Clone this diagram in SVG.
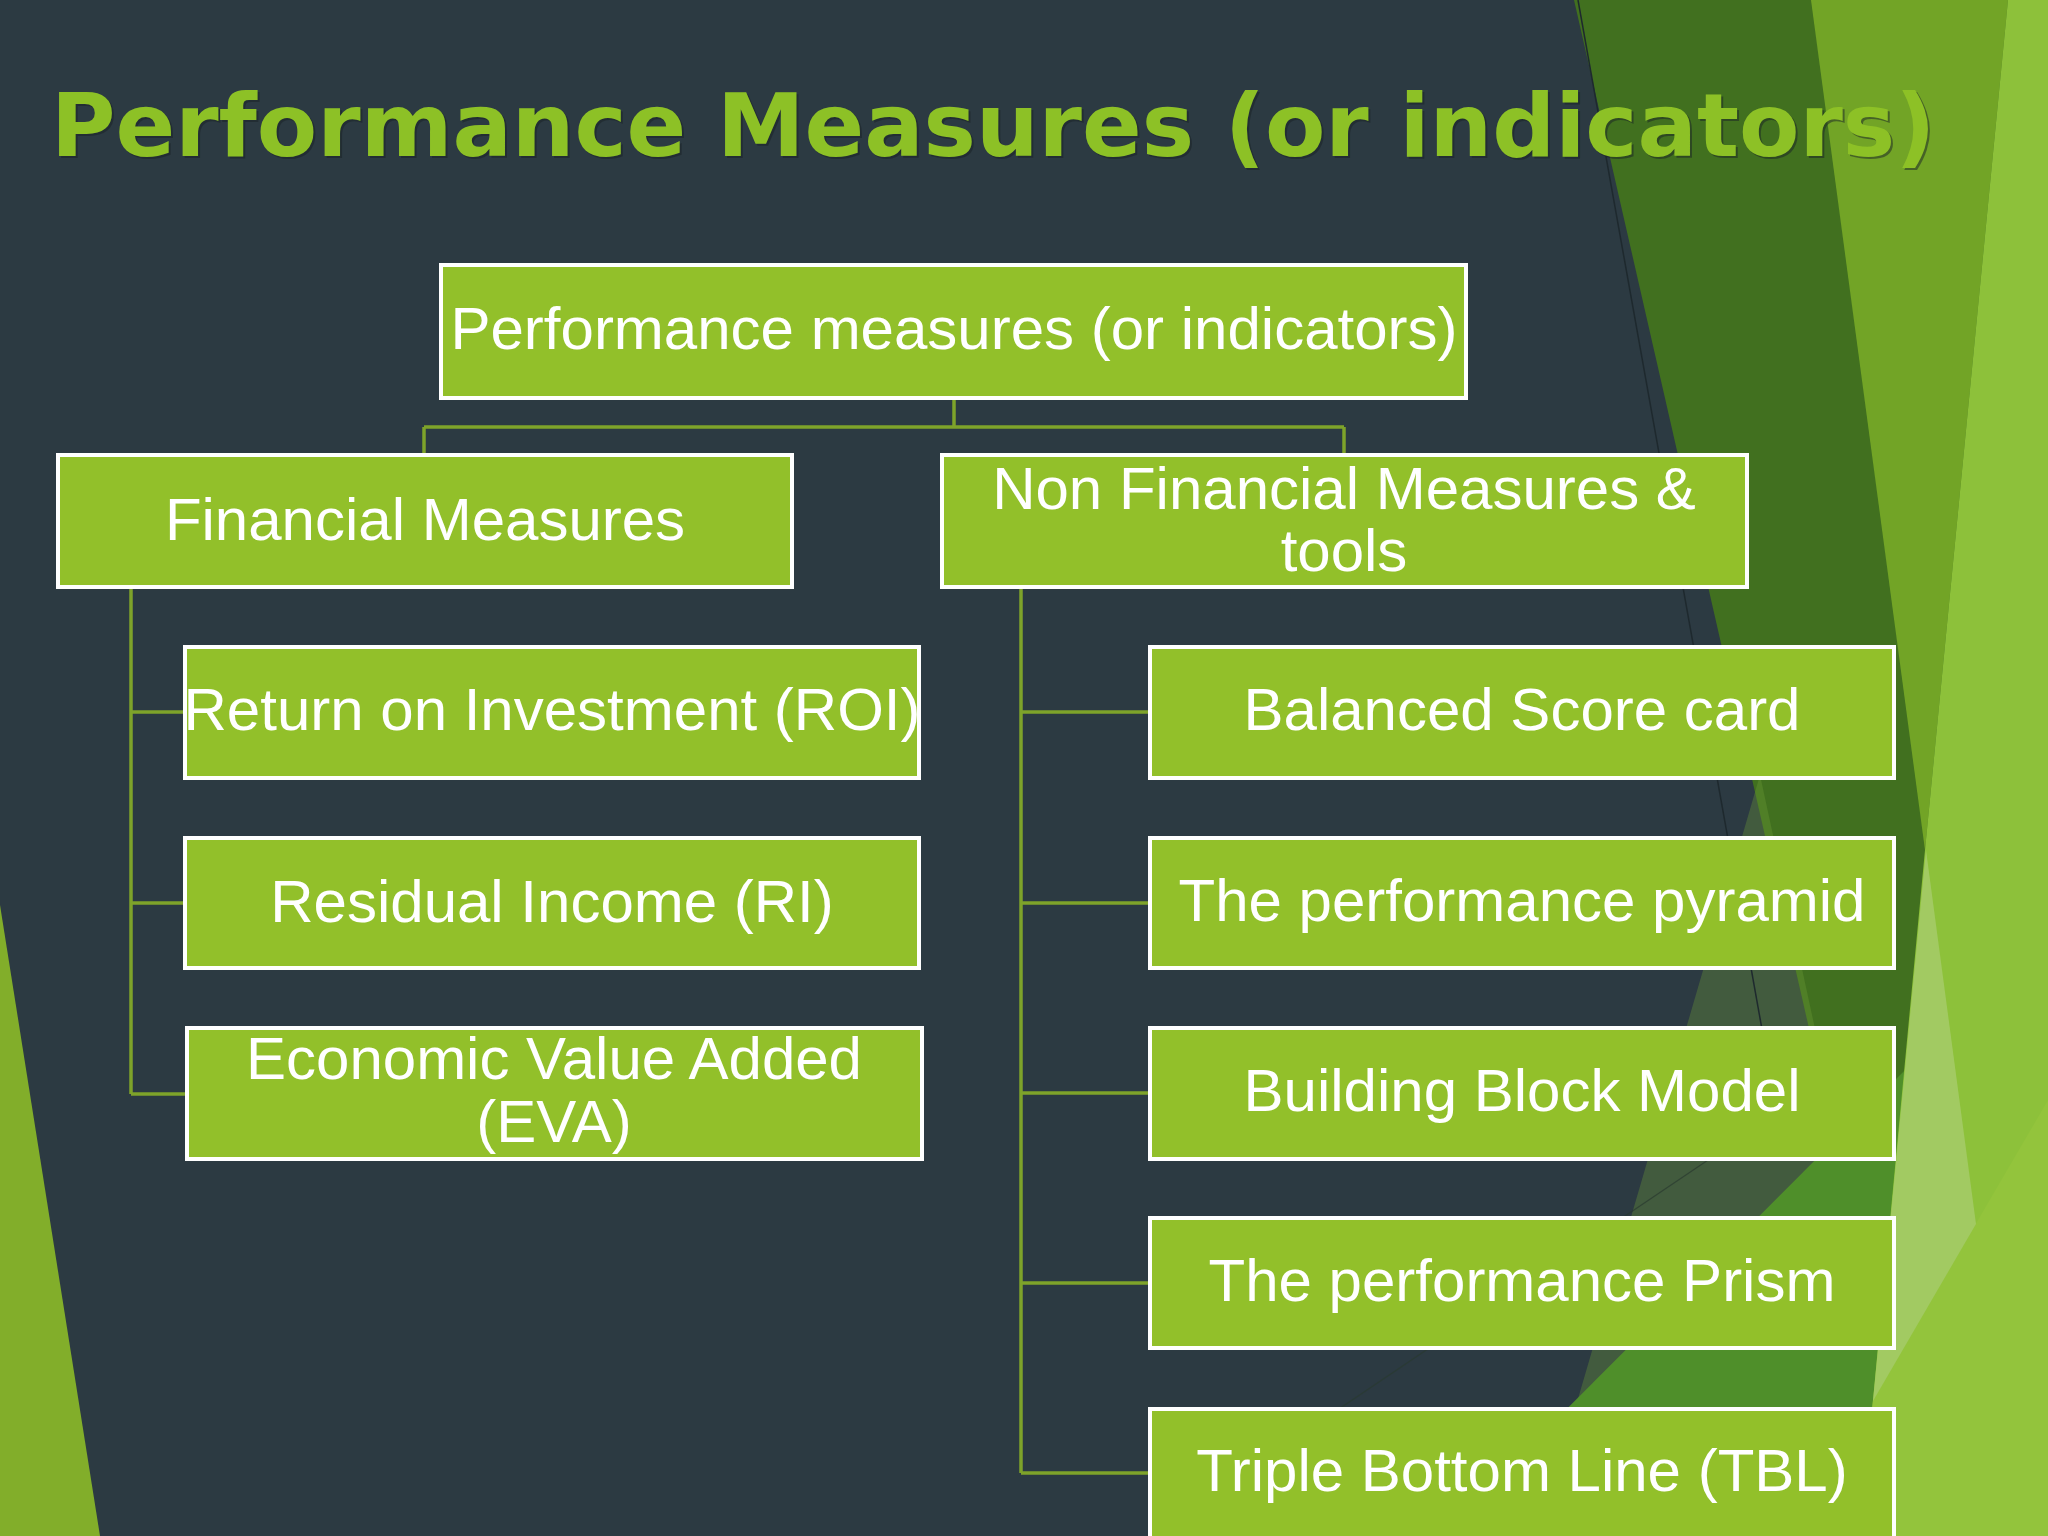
<svg xmlns="http://www.w3.org/2000/svg" width="2048" height="1536" viewBox="0 0 2048 1536">
<style>
.box{fill:#92C02A;stroke:#FFFFFF;stroke-width:4}
.lbl{font-family:"Liberation Sans",Arial,sans-serif;font-size:60px;fill:#FFFFFF;text-anchor:middle}
.title{font-family:"DejaVu Sans",Verdana,sans-serif;font-weight:bold;font-size:88px}
.con{fill:none;stroke:#7EA32A;stroke-width:3.5}
</style>
<g id="background">
<rect x="0" y="0" width="2048" height="1536" fill="#2C3A42"/>
<polygon points="1574,0 2048,0 2048,1536 1925,1536" fill="#41701F"/>
<polygon points="1760,775 1925,1536 1538,1536" fill="#6C9A36" opacity="0.35"/>
<polygon points="1975,1000 1990,1536 1440,1536" fill="#4F8F2A"/>
<polygon points="1811,0 2008,0 1925,850" fill="#72A426"/>
<polygon points="2008,0 2048,0 2048,1536 1860,1536 1873,1400 1925,850" fill="#8DC13A"/>
<polygon points="2048,1100 2048,1536 1860,1536 1873,1400" fill="#93C43C"/>
<polygon points="1926,850 1976,1224 1873,1401" fill="#A2CA62"/>
<line x1="1578" y1="0" x2="1780" y2="1130" stroke="#1E292E" stroke-width="1.5"/>
<line x1="1330" y1="1415" x2="1760" y2="1125" stroke="#2A3A30" stroke-width="1.2" opacity="0.7"/>
<polygon points="0,905 100,1536 0,1536" fill="#82AE2A"/>
</g>
<g id="title">
<text class="title" x="53" y="158" fill="#1A2226" opacity="0.5">Performance Measures (or indicators)</text>
<text class="title" x="51" y="156" fill="#8DC126">Performance Measures (or indicators)</text>
</g>
<g id="connectors">
<path class="con" d="M954,400 V427 M424,427 H1344 M424,427 V455 M1344,427 V455"/>
<path class="con" d="M131,589 V1094 M131,712 H185 M131,903 H185 M131,1094 H187"/>
<path class="con" d="M1021,589 V1473 M1021,712 H1150 M1021,903 H1150 M1021,1093 H1150 M1021,1283 H1150 M1021,1473 H1150"/>
</g>
<g id="node-root">
<rect class="box" x="441" y="265" width="1025" height="133"/>
<text class="lbl" x="954" y="349">Performance measures (or indicators)</text>
</g>
<g id="node-financial">
<rect class="box" x="58" y="455" width="734" height="132"/>
<text class="lbl" x="425" y="540">Financial Measures</text>
</g>
<g id="node-nonfinancial">
<rect class="box" x="942" y="455" width="805" height="132"/>
<text class="lbl" x="1344" y="509">Non Financial Measures &amp;</text>
<text class="lbl" x="1344" y="571">tools</text>
</g>
<g id="node-roi">
<rect class="box" x="185" y="647" width="734" height="131"/>
<text class="lbl" x="552" y="730">Return on Investment (ROI)</text>
</g>
<g id="node-ri">
<rect class="box" x="185" y="838" width="734" height="130"/>
<text class="lbl" x="552" y="922">Residual Income (RI)</text>
</g>
<g id="node-eva">
<rect class="box" x="187" y="1028" width="735" height="131"/>
<text class="lbl" x="554" y="1079">Economic Value Added</text>
<text class="lbl" x="554" y="1142">(EVA)</text>
</g>
<g id="node-bsc">
<rect class="box" x="1150" y="647" width="744" height="131"/>
<text class="lbl" x="1522" y="730">Balanced Score card</text>
</g>
<g id="node-pyramid">
<rect class="box" x="1150" y="838" width="744" height="130"/>
<text class="lbl" x="1522" y="921">The performance pyramid</text>
</g>
<g id="node-bbm">
<rect class="box" x="1150" y="1028" width="744" height="131"/>
<text class="lbl" x="1522" y="1111">Building Block Model</text>
</g>
<g id="node-prism">
<rect class="box" x="1150" y="1218" width="744" height="130"/>
<text class="lbl" x="1522" y="1301">The performance Prism</text>
</g>
<g id="node-tbl">
<rect class="box" x="1150" y="1409" width="744" height="140"/>
<text class="lbl" x="1522" y="1491">Triple Bottom Line (TBL)</text>
</g>
</svg>
